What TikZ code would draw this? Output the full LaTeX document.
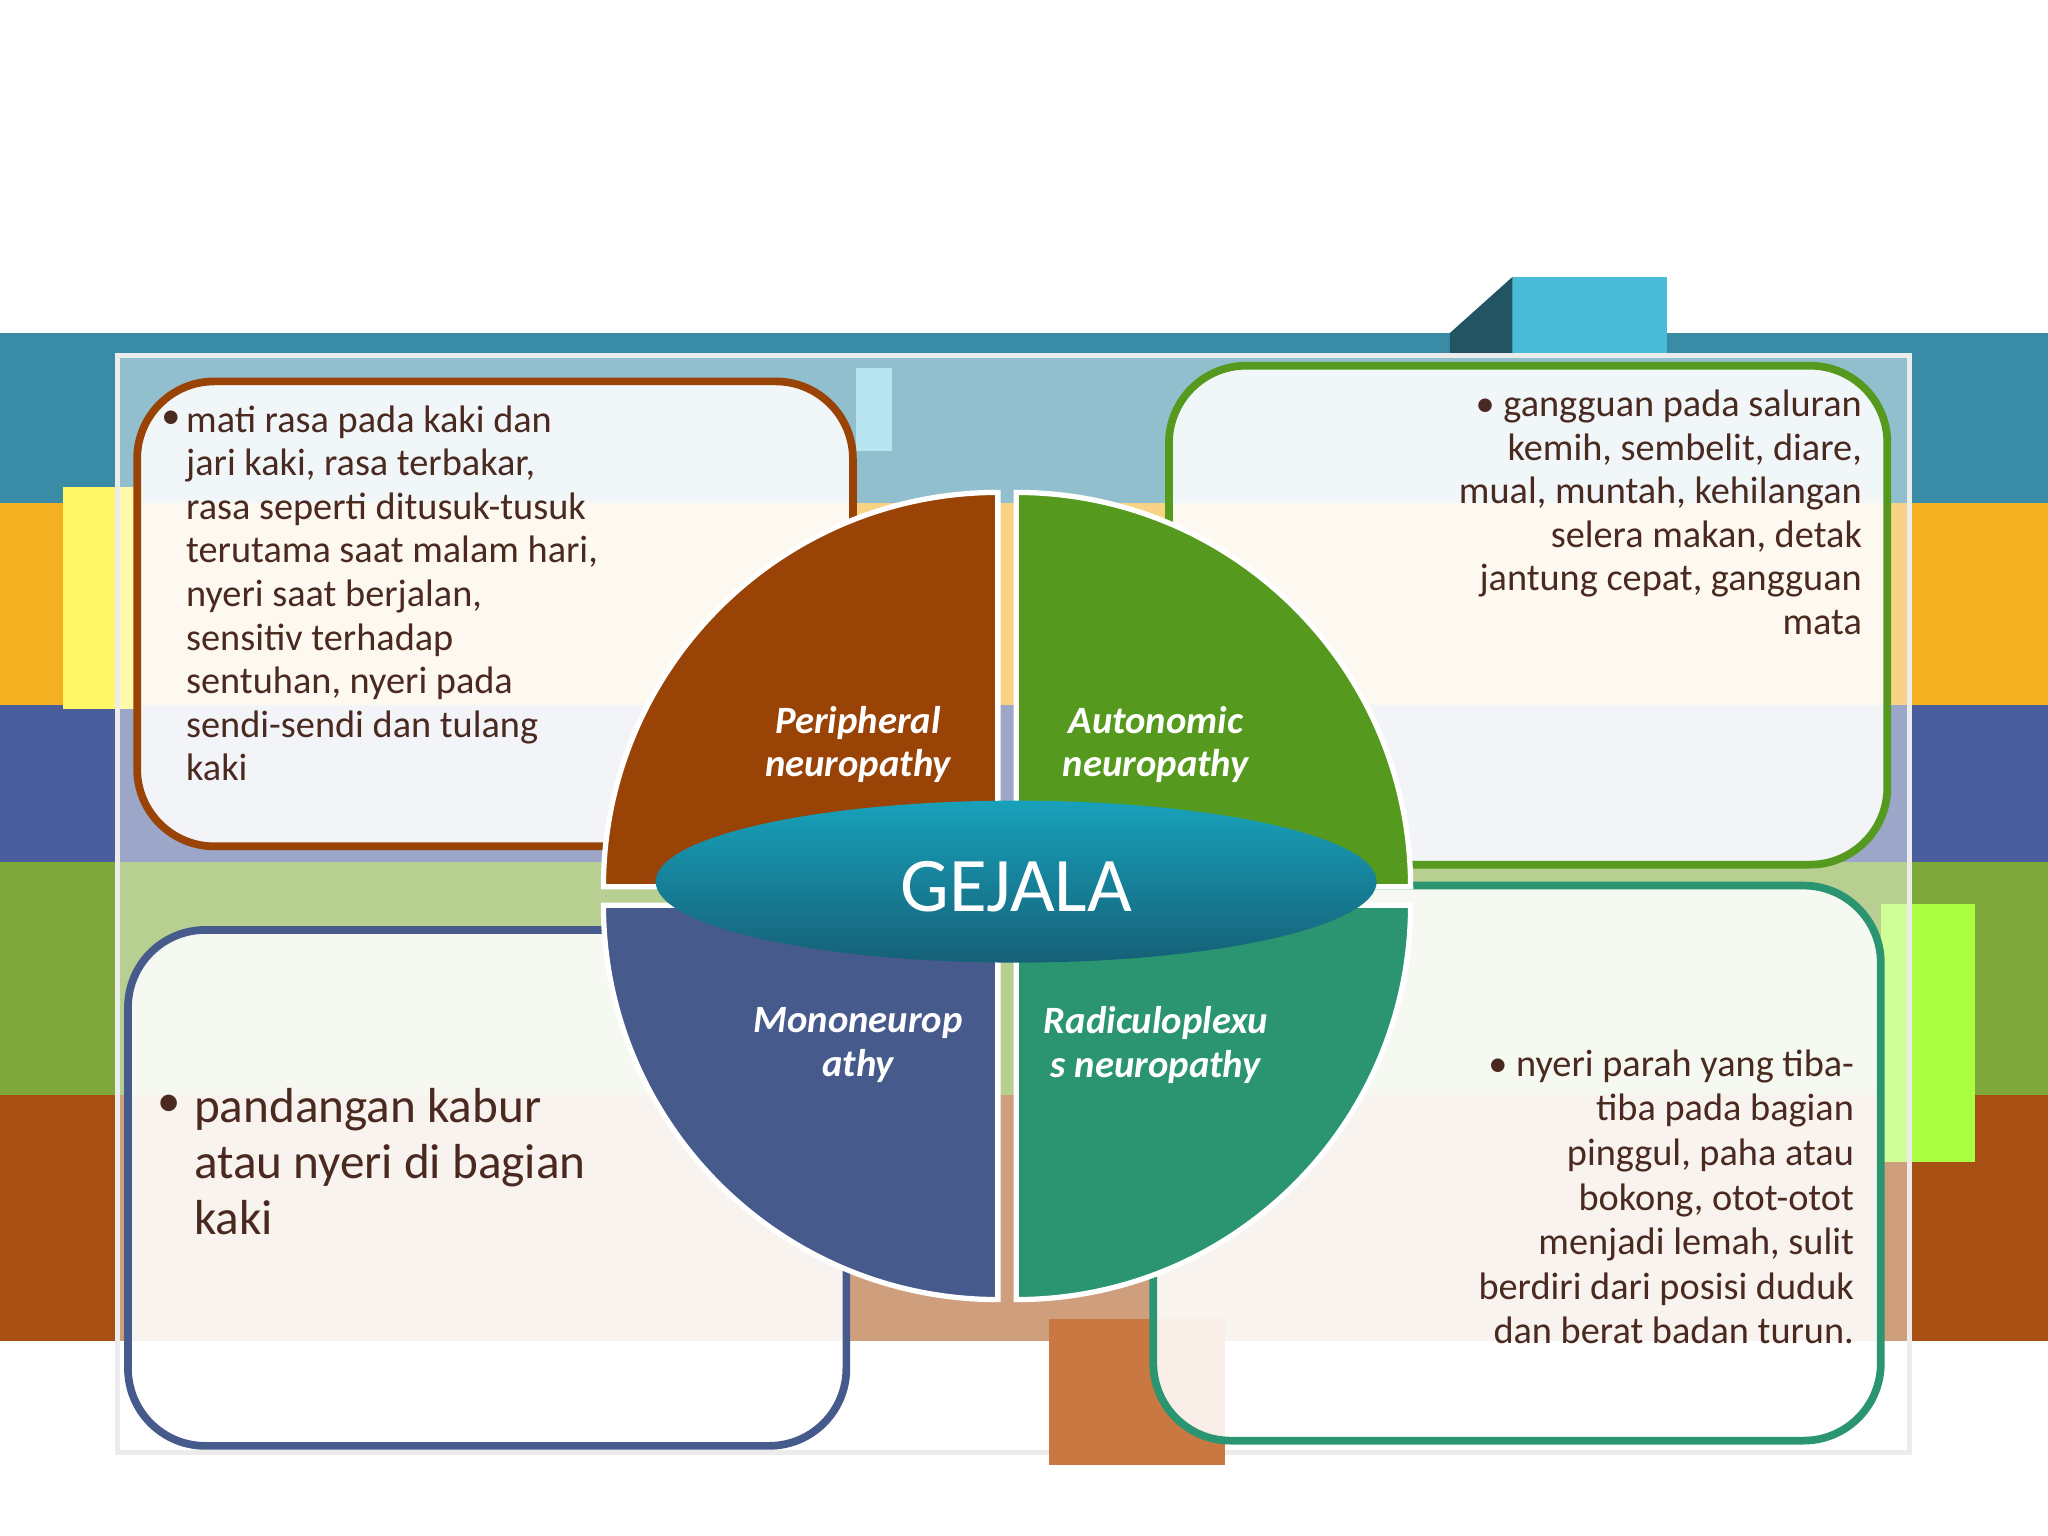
\documentclass[tikz,border=0pt]{standalone}
\usepackage{fontspec}
\setmainfont{Carlito}
\usetikzlibrary{positioning}
\definecolor{stripteal}{HTML}{3A8CA6}
\definecolor{stripyellow}{HTML}{F5B022}
\definecolor{stripblue}{HTML}{4A5E9E}
\definecolor{stripgreen}{HTML}{7FA83A}
\definecolor{stripbrown}{HTML}{A84F14}
\definecolor{quadbrown}{HTML}{9A4307}
\definecolor{quadgreen}{HTML}{559A1E}
\definecolor{quadblue}{HTML}{475A8C}
\definecolor{quadteal}{HTML}{2A9570}
\definecolor{gejalablue}{HTML}{1E8AAA}
\definecolor{textbrown}{HTML}{4A2A20}
\definecolor{blockcyan}{HTML}{4ABCD8}
\definecolor{blockorange}{HTML}{C87840}
\tikzset{
  box/.style={rounded corners=22, line width=2.2pt, fill=white, fill opacity=0.88, text opacity=1},
  quadlabel/.style={text=white, font=\bfseries\itshape\fontsize{11}{12.5}\selectfont, align=center},
  bodytext/.style={text=textbrown, font=\fontsize{10.9}{12.4}\selectfont, inner sep=0pt}
}
\begin{document}
\begin{tikzpicture}[x=0.01306cm, y=-0.01306cm]
\useasboundingbox (0,0) rectangle (1568,1176);
% stripes
\fill[stripteal] (0,255) rectangle (1568,385);
\fill[stripyellow] (0,385) rectangle (1568,540);
\fill[stripblue] (0,540) rectangle (1568,660);
\fill[stripgreen] (0,660) rectangle (1568,838);
\fill[stripbrown] (0,838) rectangle (1568,1027);
% decorative blocks
\fill[yellow!60!white] (48,373) rectangle (105,543);
\fill[blockcyan] (1158,212) rectangle (1276,272);
\fill[stripteal!60!black] (1110,255) -- (1158,212) -- (1158,272) -- (1110,272) -- cycle;
\fill[green!45!yellow!75!white] (1440,692) rectangle (1512,890);
\fill[blockcyan!70!white] (655,282) rectangle (683,345);
% panel
\fill[white, opacity=0.45] (90,272) rectangle (1462,1112);
\draw[white!85!gray, line width=1.5pt] (90,272) rectangle (1462,1112);
\fill[blockorange] (803,1010) rectangle (938,1122);
% boxes
\draw[box, draw=quadbrown] (105,292) rectangle (653,648);
\draw[box, draw=quadgreen] (895,280) rectangle (1445,662);
\draw[box, draw=quadblue] (98,712) rectangle (648,1107);
\draw[box, draw=quadteal] (883,678) rectangle (1440,1103);
% quadrants
\fill[quadbrown, draw=white, line width=1.5pt] (764,679) -- (462,679) arc[start angle=180, end angle=270, radius=302] -- cycle;
\fill[quadgreen, draw=white, line width=1.5pt] (778,679) -- (778,377) arc[start angle=270, end angle=360, radius=302] -- cycle;
\fill[quadblue, draw=white, line width=1.5pt] (764,693) -- (764,995) arc[start angle=90, end angle=180, radius=302] -- cycle;
\fill[quadteal, draw=white, line width=1.5pt] (778,693) -- (1080,693) arc[start angle=0, end angle=90, radius=302] -- cycle;
% centre
\shade[top color=gejalablue!80!cyan, bottom color=gejalablue!70!black] (778,675) ellipse[x radius=276, y radius=62];
\node[text=white, font=\fontsize{22}{26}\selectfont] (gejala) at (778,679) {GEJALA};
\node[quadlabel] (peripheral) at (657,570) {Peripheral\\neuropathy};
\node[quadlabel] (autonomic) at (885,570) {Autonomic\\neuropathy};
\node[quadlabel] (mono) at (657,800) {Mononeurop\\athy};
\node[quadlabel] (radiculo) at (885,800) {Radiculoplexu\\s neuropathy};
% texts
\node[bodytext, anchor=north west] (bulletTL) at (123,314) {\textbullet};
\node[bodytext, anchor=north west, align=left] (textTL) at (142,310) {mati rasa pada kaki dan\\jari kaki, rasa terbakar,\\rasa seperti ditusuk-tusuk\\terutama saat malam hari,\\nyeri saat berjalan,\\sensitiv terhadap\\sentuhan, nyeri pada\\sendi-sendi dan tulang\\kaki};
\node[bodytext, anchor=north east, align=right] (textTR) at (1426,298) {\textbullet\ gangguan pada saluran\\kemih, sembelit, diare,\\mual, muntah, kehilangan\\selera makan, detak\\jantung cepat, gangguan\\mata};
\node[bodytext, anchor=north west, font=\fontsize{13.3}{15.9}\selectfont] (bulletBL) at (120,838) {\textbullet};
\node[bodytext, anchor=north west, align=left, font=\fontsize{14}{15.9}\selectfont] (textBL) at (148,833) {pandangan kabur\\atau nyeri di bagian\\kaki};
\node[bodytext, anchor=north east, align=right, font=\fontsize{10.9}{12.7}\selectfont] (textBR) at (1420,803) {\textbullet\ nyeri parah yang tiba-\\tiba pada bagian\\pinggul, paha atau\\bokong, otot-otot\\menjadi lemah, sulit\\berdiri dari posisi duduk\\dan berat badan turun.};
\end{tikzpicture}
\end{document}
